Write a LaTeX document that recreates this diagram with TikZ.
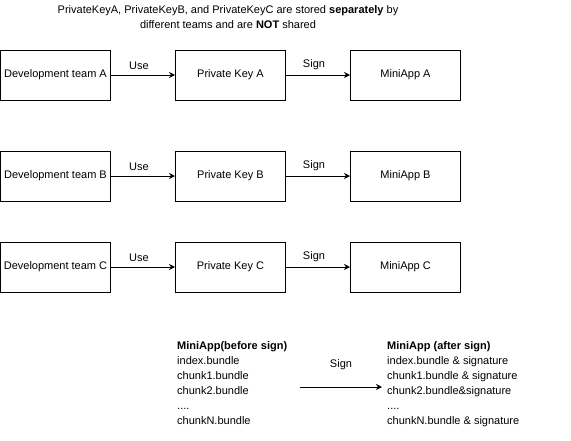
\documentclass[tikz,border=0pt]{standalone}
\usepackage{fontspec}
\setmainfont{Liberation Sans}
\usetikzlibrary{positioning, arrows.meta}

\begin{document}
\begin{tikzpicture}[x=1pt, y=-1pt, node distance=64pt and 64pt,
      every node/.style={font=\fontsize{11}{15}\selectfont},
      keybox/.style={draw, line width=1pt, minimum height=50pt, minimum width=110pt, inner sep=0pt},
      flow/.style={-{Stealth[length=6pt, width=6pt]}, line width=1pt},
      lbl/.style={above, inner sep=5pt, xshift=-4pt}]
    \useasboundingbox (0,0) rectangle (571,440);

    \node[align=center, inner sep=0pt] (note) at (228,17.5) {PrivateKeyA, PrivateKeyB, and PrivateKeyC are stored \textbf{separately} by \\ different teams and are \textbf{NOT} shared};

    % team A
    \node[keybox] (teamA) at (55.5,75) {Development team A};
    \node[keybox, right=of teamA] (keyA) {Private Key A};
    \node[keybox, right=of keyA] (appA) {MiniApp A};

    % team B
    \node[keybox, below=50pt of teamA] (teamB) {Development team B};
    \node[keybox, right=of teamB] (keyB) {Private Key B};
    \node[keybox, right=of keyB] (appB) {MiniApp B};

    % team C
    \node[keybox, below=40pt of teamB] (teamC) {Development team C};
    \node[keybox, right=of teamC] (keyC) {Private Key C};
    \node[keybox, right=of keyC] (appC) {MiniApp C};

    \foreach \t in {A,B,C} {
      \draw[flow] (team\t) -- node[lbl] {Use} (key\t);
      \draw[flow] (key\t) -- node[lbl] {Sign} (app\t);
    }

    % bundles before / after signing
    \node[anchor=north west, align=left, inner sep=0pt] (before) at (177,341) {\textbf{MiniApp(before sign)} \\ index.bundle \\ chunk1.bundle \\ chunk2.bundle \\ .... \\ chunkN.bundle};
    \node[anchor=north west, align=left, inner sep=0pt] (after) at (387,341) {\textbf{MiniApp (after sign)} \\ index.bundle \& signature \\ chunk1.bundle \& signature \\ chunk2.bundle\&signature \\ .... \\ chunkN.bundle \& signature};

    \coordinate (signStart) at (300,387);
    \coordinate (signEnd) at (382,387);
    \draw[flow] (signStart) -- node[above=14pt, inner sep=3pt] {Sign} (signEnd);
  \end{tikzpicture}
\end{document}
